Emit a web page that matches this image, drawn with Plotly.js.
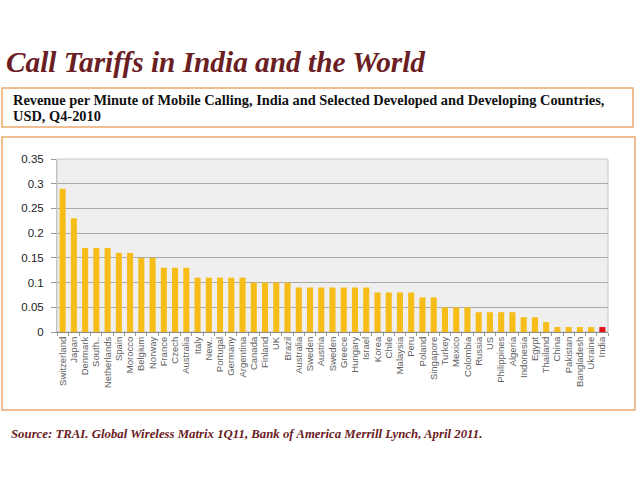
<!DOCTYPE html>
<html>
<head>
<meta charset="utf-8">
<script src="https://cdn.plot.ly/plotly-3.0.1.min.js"></script>
<style>
  html, body { margin: 0; padding: 0; background: #ffffff; }
  #chart { width: 638px; height: 493px; }
</style>
</head>
<body>
<div id="chart"></div>
<script>
// ---- Data ----
const countries = [
  "Switzerland", "Japan", "Denmark", "South..", "Netherlands", "Spain", "Morocco",
  "Belgium", "Norway", "France", "Czech", "Australia", "Italy", "New..", "Portugal",
  "Germany", "Argentina", "Canada", "Finland", "UK", "Brazil", "Australia", "Sweden",
  "Austria", "Sweden", "Greece", "Hungary", "Israel", "Korea", "Chile", "Malaysia",
  "Peru", "Poland", "Singapore", "Turkey", "Mexico", "Colombia", "Russia", "US",
  "Philippines", "Algeria", "Indonesia", "Egypt", "Thailand", "China", "Pakistan",
  "Bangladesh", "Ukraine", "India"
];
const revenuePerMinute = [
  0.29, 0.23, 0.17, 0.17, 0.17, 0.16, 0.16,
  0.15, 0.15, 0.13, 0.13, 0.13, 0.11, 0.11, 0.11,
  0.11, 0.11, 0.10, 0.10, 0.10, 0.10, 0.09, 0.09,
  0.09, 0.09, 0.09, 0.09, 0.09, 0.08, 0.08, 0.08,
  0.08, 0.07, 0.07, 0.05, 0.05, 0.05, 0.04, 0.04,
  0.04, 0.04, 0.03, 0.03, 0.02, 0.01, 0.01,
  0.01, 0.01, 0.01
];
const highlightCountry = "India";
const yTickValues = [0, 0.05, 0.1, 0.15, 0.2, 0.25, 0.3, 0.35];

const titleText = "Call Tariffs in India and the World";
const subtitleLine1 = "Revenue per Minute of Mobile Calling, India and Selected Developed and Developing Countries,";
const subtitleLine2 = "USD, Q4-2010";
const sourceText = "Source: TRAI. Global Wireless Matrix 1Q11, Bank of America Merrill Lynch, April 2011.";

// ---- Geometry helpers (page pixels -> paper coords) ----
const W = 638, H = 493;
const L = 57, R = 608, T = 159, B = 332;
const px = x => (x - L) / (R - L);
const py = y => (B - y) / (B - T);

const xKeys = countries.map((c, i) => String(i));
const barColors = countries.map(c => c === highlightCountry ? "#e2121b" : "#f6bc18");

const trace = {
  type: "bar",
  x: xKeys,
  y: revenuePerMinute,
  marker: { color: barColors, line: { width: 0 } },
  hoverinfo: "skip"
};

const orange = "#eaa96c";
const darkRed = "#6a2023";

const layout = {
  width: W, height: H,
  margin: { l: L, r: W - R, t: T, b: H - B, pad: 0 },
  paper_bgcolor: "#ffffff",
  plot_bgcolor: "#efefef",
  showlegend: false,
  bargap: 0.46,
  font: { family: "Liberation Sans, Arial, sans-serif", color: "#333" },
  xaxis: {
    type: "category",
    tickmode: "array",
    tickvals: xKeys,
    ticktext: countries,
    tickangle: -90,
    tickson: "boundaries",
    ticks: "outside",
    ticklen: 3,
    tickcolor: "#9a9a9a",
    tickfont: { family: "Liberation Sans, Arial, sans-serif", size: 9.5, color: "#606060" },
    showline: true,
    linecolor: "#8a8a8a",
    linewidth: 1,
    showgrid: false,
    zeroline: false,
    fixedrange: true
  },
  yaxis: {
    range: [0, 0.35],
    tickmode: "array",
    tickvals: yTickValues,
    ticktext: yTickValues.map(v => String(v)),
    ticks: "outside",
    ticklen: 5,
    tickcolor: "#9a9a9a",
    ticklabelstandoff: 5,
    tickfont: { family: "Liberation Sans, Arial, sans-serif", size: 11.5, color: "#222" },
    showgrid: true,
    gridcolor: "#ababab",
    gridwidth: 1,
    showline: true,
    linecolor: "#c4c4c4",
    zeroline: false,
    fixedrange: true
  },
  shapes: [
    // plot area border
    { type: "rect", xref: "paper", yref: "paper", x0: 0, x1: 1, y0: 0, y1: 1,
      line: { color: "#c6c6c6", width: 1 }, layer: "below" },
    // subtitle box
    { type: "rect", xref: "paper", yref: "paper",
      x0: px(2), x1: px(633), y0: py(127), y1: py(88),
      line: { color: orange, width: 1.5 } },
    // chart box
    { type: "rect", xref: "paper", yref: "paper",
      x0: px(2), x1: px(635), y0: py(410), y1: py(137),
      line: { color: orange, width: 1.5 } }
  ],
  annotations: [
    { text: "<b><i>" + titleText + "</i></b>", xref: "paper", yref: "paper",
      x: px(4), y: py(62), xanchor: "left", yanchor: "middle", showarrow: false,
      font: { family: "Liberation Serif, DejaVu Serif, serif", size: 29.3, color: darkRed } },
    { text: "<b>" + subtitleLine1 + "</b>", xref: "paper", yref: "paper",
      x: px(11), y: py(100), xanchor: "left", yanchor: "middle", showarrow: false,
      font: { family: "Liberation Serif, DejaVu Serif, serif", size: 14.4, color: "#111" } },
    { text: "<b>" + subtitleLine2 + "</b>", xref: "paper", yref: "paper",
      x: px(11), y: py(116), xanchor: "left", yanchor: "middle", showarrow: false,
      font: { family: "Liberation Serif, DejaVu Serif, serif", size: 14.4, color: "#111" } },
    { text: "<b><i>" + sourceText + "</i></b>", xref: "paper", yref: "paper",
      x: px(9), y: py(434), xanchor: "left", yanchor: "middle", showarrow: false,
      font: { family: "Liberation Serif, DejaVu Serif, serif", size: 12.8, color: darkRed } }
  ]
};

Plotly.newPlot("chart", [trace], layout, { staticPlot: true, displayModeBar: false });
</script>
</body>
</html>
